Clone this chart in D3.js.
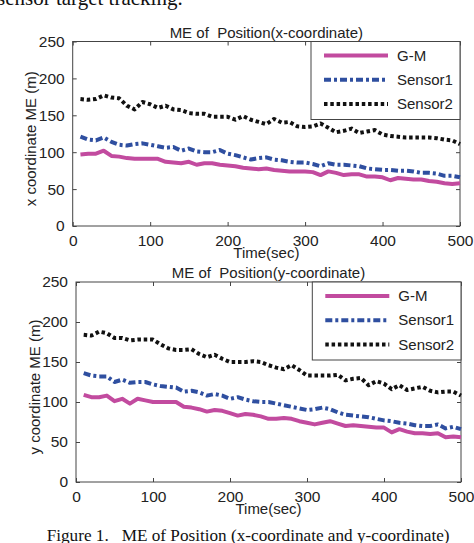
<!DOCTYPE html>
<html><head><meta charset="utf-8">
<script src="https://cdn.jsdelivr.net/npm/d3@7"></script>
<style>
html,body{margin:0;padding:0;background:#fff;overflow:hidden;}
svg{display:block;}
</style></head>
<body>
<svg id="c" width="474" height="543"></svg>
<script>
const times = d3.range(10, 501, 10);
const xTicks = [0, 100, 200, 300, 400, 500];
const yTicks = [0, 50, 100, 150, 200, 250];
const seriesNames = ["G-M", "Sensor1", "Sensor2"];

const xGM = [97,98,98,102,95,94,92,91,91,91,91,87,86,85,87,83,85,85,83,82,81,79,78,77,78,76,75,74,74,74,73,69,74,72,69,70,70,67,67,66,62,65,64,63,63,61,60,58,57,58];
const xS1 = [121,117,116,120,114,110,109,111,112,110,108,106,107,102,105,101,100,100,103,98,96,93,90,92,93,90,89,87,86,86,84,81,85,83,83,82,81,78,77,76,76,75,75,74,72,72,71,68,68,66];
const xS2 = [172,171,172,177,174,173,163,158,168,165,160,163,158,157,153,152,152,148,148,148,144,149,144,141,138,145,140,141,135,134,135,139,133,127,129,132,126,128,130,124,122,121,120,120,120,120,119,117,116,111];

const yGM = [109,106,106,108,101,104,98,104,102,100,100,100,100,94,93,91,88,90,89,86,83,85,84,82,79,79,80,79,76,74,72,74,76,73,70,71,70,69,68,68,62,66,63,61,61,60,61,56,57,56];
const yS1 = [136,133,132,132,125,128,124,125,125,122,120,119,118,113,114,112,108,110,108,104,106,103,101,100,100,98,96,94,92,90,91,93,91,87,84,83,82,81,79,77,76,74,73,71,70,70,72,67,69,66];
const yS2 = [184,183,188,186,180,180,177,178,178,178,172,167,165,165,166,160,156,159,154,150,150,150,151,150,146,143,141,146,140,133,133,133,133,134,127,129,130,121,126,123,116,121,115,117,119,114,112,113,113,108];

const styles = [
  {color:"#c24b9f", width:4, dash:null},
  {color:"#2f4fa0", width:4, dash:"7,3,3,3"},
  {color:"#111111", width:4, dash:"3.5,2.8"}
];

const svg = d3.select("#c");
const sans = "Arial, 'Liberation Sans', Helvetica, sans-serif";
const serif = "'Times New Roman', 'Liberation Serif', serif";

svg.append("text").attr("x", -3).attr("y", 5).attr("font-family", serif).attr("font-size", 21).attr("fill","#111").text("sensor target tracking.");

function panel(cfg) {
  const x = d3.scaleLinear().domain([0,500]).range([cfg.left, cfg.right]);
  const y = d3.scaleLinear().domain([0,250]).range([cfg.bottom, cfg.top]);
  const g = svg.append("g");
  g.append("rect").attr("x", cfg.left).attr("y", cfg.top).attr("width", cfg.right-cfg.left).attr("height", cfg.bottom-cfg.top)
    .attr("fill","none").attr("stroke","#444").attr("stroke-width",1);
  const ax = g.append("g").attr("transform", `translate(0,${cfg.bottom})`).call(d3.axisBottom(x).tickValues(xTicks).tickSizeInner(-4).tickSizeOuter(0).tickPadding(9));
  const axT = g.append("g").attr("transform", `translate(0,${cfg.top})`).call(d3.axisTop(x).tickValues(xTicks).tickSizeInner(-4).tickSizeOuter(0).tickFormat(""));
  const ay = g.append("g").attr("transform", `translate(${cfg.left},0)`).call(d3.axisLeft(y).tickValues(yTicks).tickSizeInner(-4).tickSizeOuter(0).tickPadding(8));
  const ayR = g.append("g").attr("transform", `translate(${cfg.right},0)`).call(d3.axisRight(y).tickValues(yTicks).tickSizeInner(-4).tickSizeOuter(0).tickFormat(""));
  [ax,axT,ay,ayR].forEach(a => {
    a.select(".domain").remove();
    a.selectAll("line").attr("stroke","#444");
    a.selectAll("text").attr("font-family", sans).attr("font-size", 15.5).attr("fill","#222");
  });
  const line = d3.line().x((d,i)=>x(times[i])).y(d=>y(d));
  cfg.data.forEach((arr, k) => {
    const p = g.append("path").datum(arr).attr("d", line).attr("fill","none")
      .attr("stroke", styles[k].color).attr("stroke-width", styles[k].width).attr("stroke-linejoin","round");
    if (styles[k].dash) p.attr("stroke-dasharray", styles[k].dash);
  });
  const L = cfg.legend;
  g.append("rect").attr("x", L.x).attr("y", L.y).attr("width", L.w).attr("height", L.h).attr("fill","#fff").attr("stroke","#444").attr("stroke-width",1);
  seriesNames.forEach((n,k) => {
    const ly = L.y + 14 + k*24.3;
    const p = g.append("line").attr("x1", L.x+13).attr("x2", L.x+77).attr("y1", ly).attr("y2", ly)
      .attr("stroke", styles[k].color).attr("stroke-width", styles[k].width);
    if (styles[k].dash) p.attr("stroke-dasharray", styles[k].dash);
    g.append("text").attr("x", L.x+86).attr("y", ly+5).attr("font-family", sans).attr("font-size", 15).attr("fill","#222").text(n);
  });
  const cx = (cfg.left+cfg.right)/2;
  g.append("text").attr("x", cx).attr("y", cfg.top-4).attr("text-anchor","middle").attr("font-family", sans).attr("font-size", 15).attr("fill","#222").attr("xml:space","preserve").text(cfg.title);
  g.append("text").attr("x", cx).attr("y", cfg.bottom+32).attr("text-anchor","middle").attr("font-family", sans).attr("font-size", 15).attr("fill","#222").text("Time(sec)");
  g.append("text").attr("transform", `translate(${cfg.ylx},${(cfg.top+cfg.bottom)/2+5}) rotate(-90)`).attr("text-anchor","middle").attr("font-family", sans).attr("font-size", 15).attr("fill","#222").text(cfg.ylabel);
}

panel({left:72.7, right:460, top:41.5, bottom:226, data:[xGM,xS1,xS2], title:"ME of  Position(x-coordinate)", ylabel:"x coordinate ME (m)", ylx:36,
  legend:{x:311, y:41.5, w:149, h:78}});
panel({left:76, right:461, top:282, bottom:482, data:[yGM,yS1,yS2], title:"ME of  Position(y-coordinate)", ylabel:"y coordinate ME (m)", ylx:40,
  legend:{x:312.3, y:282, w:148.7, h:78}});

svg.append("text").attr("x", 46.7).attr("y", 541).attr("font-family", serif).attr("font-size", 17.2).attr("fill","#111").attr("xml:space","preserve").text("Figure 1.   ME of Position (x-coordinate and y-coordinate)");
</script>
</body></html>
